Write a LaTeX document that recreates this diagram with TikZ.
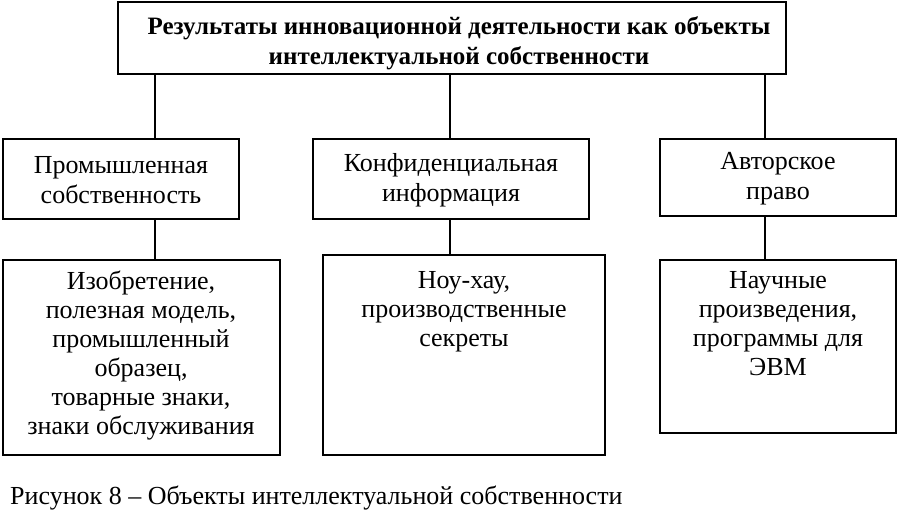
\documentclass[tikz,border=0pt]{standalone}
\usepackage{fontspec}
\setmainfont{Liberation Serif}
\begin{document}
\begin{tikzpicture}[x=1pt,y=-1pt,
  box/.style={draw,line width=1.2pt},
  txt/.style={align=center,font=\fontsize{26}{29}\selectfont,inner sep=0pt},
  con/.style={line width=1.2pt}]
\useasboundingbox[fill=white] (0,0) rectangle (902,512);
% boxes
\draw[box] (118,2) rectangle (786,74);
\node[txt,font=\bfseries\fontsize{25}{30}\selectfont] (top) at (459,43) {Результаты инновационной деятельности как объекты\\интеллектуальной собственности};
\coordinate (t1) at (155,74); \coordinate (t2) at (450,74); \coordinate (t3) at (765,74);
\draw[box] (3,139) rectangle (239,219);
\draw[box] (313,139) rectangle (589,219);
\draw[box] (660,139) rectangle (896,216);
\node[txt,font=\fontsize{26}{30}\selectfont] (a) at (121,180) {Промышленная\\собственность};
\node[txt,font=\fontsize{26}{30}\selectfont] (b) at (451,180) {Конфиденциальная\\информация};
\node[txt,font=\fontsize{26}{30}\selectfont] (c) at (778,179) {Авторское\\право};
\draw[box] (3,260) rectangle (280,455);
\draw[box] (323,255) rectangle (605,455);
\draw[box] (660,260) rectangle (896,433);
\node[txt,anchor=north] (d) at (141,271) {Изобретение,\\полезная модель,\\промышленный\\образец,\\товарные знаки,\\знаки обслуживания};
\node[txt,anchor=north] (e) at (464,271) {Ноу-хау,\\производственные\\секреты};
\node[txt,anchor=north] (f) at (778,271) {Научные\\произведения,\\программы для\\ЭВМ};
\draw[con] (t1) -- (155,139);
\draw[con] (t2) -- (450,139);
\draw[con] (t3) -- (765,139);
\draw[con] (155,219) -- (155,260);
\draw[con] (450,219) -- (450,255);
\draw[con] (765,216) -- (765,260);
\node[txt,anchor=west,font=\fontsize{26}{30}\selectfont] (cap) at (10,498) {Рисунок 8 – Объекты интеллектуальной собственности};
\end{tikzpicture}
\end{document}
